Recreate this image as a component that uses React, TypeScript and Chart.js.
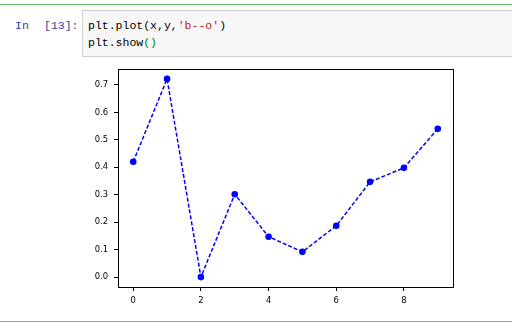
import React, { useEffect, useRef } from "react";
import { Chart, registerables } from "chart.js";

Chart.register(...registerables);

const xValues = [0, 1, 2, 3, 4, 5, 6, 7, 8, 9];
const yValues = [0.42, 0.722, 0.0, 0.302, 0.147, 0.092, 0.187, 0.347, 0.398, 0.54];
const xTicks = [0, 2, 4, 6, 8];
const yTicks = [0.0, 0.1, 0.2, 0.3, 0.4, 0.5, 0.6, 0.7];
const xRange = [-0.45, 9.45];
const yRange = [-0.0361, 0.7581];

const boxPlugin = {
  id: "axesBox",
  afterDraw(chart: any) {
    const { ctx, chartArea: a } = chart;
    ctx.save();
    ctx.strokeStyle = "#000";
    ctx.lineWidth = 1;
    ctx.strokeRect(Math.round(a.left) + 0.5, Math.round(a.top) + 0.5, Math.round(a.right - a.left), Math.round(a.bottom - a.top));
    ctx.restore();
  },
};

const mono = "'Liberation Mono', 'DejaVu Sans Mono', monospace";

export default function App() {
  const ref = useRef<HTMLCanvasElement | null>(null);
  useEffect(() => {
    document.body.style.margin = "0";
    const tickFont = { family: "'DejaVu Sans', sans-serif", size: 8.4 };
    const chart = new Chart(ref.current as HTMLCanvasElement, {
      type: "line",
      data: {
        datasets: [
          {
            data: xValues.map((x, i) => ({ x, y: yValues[i] })),
            borderColor: "#0000ff",
            backgroundColor: "#0000ff",
            borderWidth: 1.5,
            borderDash: [4, 2],
            pointRadius: 3.3,
            pointBorderWidth: 0,
            pointBackgroundColor: "#0000ff",
            tension: 0,
            fill: false,
          },
        ],
      },
      options: {
        animation: false,
        responsive: false,
        events: [],
        layout: { padding: { top: 69, right: 59, left: 0, bottom: 0 } },
        plugins: { legend: { display: false }, tooltip: { enabled: false } },
        scales: {
          x: {
            type: "linear",
            min: xRange[0],
            max: xRange[1],
            afterFit: (s: any) => { s.height = 41; },
            afterBuildTicks: (s: any) => { s.ticks = xTicks.map((v) => ({ value: v })); },
            grid: { display: true, drawOnChartArea: false, drawTicks: true, tickLength: 4, tickColor: "#000", tickWidth: 1 },
            border: { display: false },
            ticks: { color: "#000", font: tickFont, padding: 5, maxRotation: 0, callback: (v: any) => String(v) },
          },
          y: {
            type: "linear",
            min: yRange[0],
            max: yRange[1],
            afterFit: (s: any) => { s.width = 118; },
            afterBuildTicks: (s: any) => { s.ticks = yTicks.map((v) => ({ value: v })); },
            grid: { display: true, drawOnChartArea: false, drawTicks: true, tickLength: 4, tickColor: "#000", tickWidth: 1 },
            border: { display: false },
            ticks: { color: "#000", font: tickFont, padding: 6, callback: (v: any) => Number(v).toFixed(1) },
          },
        },
      },
      plugins: [boxPlugin],
    });
    return () => chart.destroy();
  }, []);

  return (
    <div style={{ position: "absolute", left: 0, top: 0, width: 512, height: 328, overflow: "hidden", background: "#fff" }}>
      <div style={{ position: "absolute", left: 0, top: 4, width: 512, height: 1, background: "#66bb6a" }} />
      <div style={{ position: "absolute", left: 0, top: 321, width: 512, height: 1, background: "#66bb6a" }} />
      <div style={{ position: "absolute", left: 82, top: 10, width: 460, height: 47, boxSizing: "border-box", border: "1px solid #cfcfcf", background: "#f7f7f7" }} />
      <div style={{ position: "absolute", left: 15, top: 17, fontFamily: mono, fontSize: 11.5, lineHeight: "17px", color: "#303F9F", whiteSpace: "pre" }}>In</div>
      <div style={{ position: "absolute", left: 44, top: 17, fontFamily: mono, fontSize: 11.5, lineHeight: "17px", color: "#303F9F", whiteSpace: "pre" }}>[13]:</div>
      <div style={{ position: "absolute", left: 88, top: 17, fontFamily: mono, fontSize: 11.5, lineHeight: "17px", color: "#000", whiteSpace: "pre" }}>
        <div>plt.plot(x,y,<span style={{ color: "#BA2121" }}>'b--o'</span>)</div>
        <div>plt.show<span style={{ color: "#008000" }}>()</span></div>
      </div>
      <canvas ref={ref} width={512} height={328} style={{ position: "absolute", left: 0, top: 0, width: 512, height: 328 }} />
    </div>
  );
}
